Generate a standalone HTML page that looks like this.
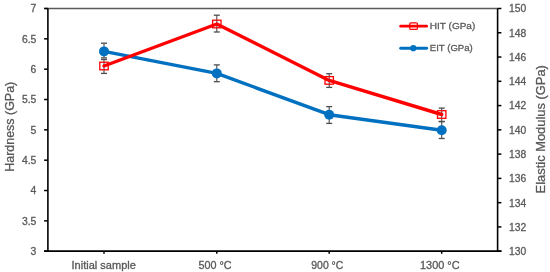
<!DOCTYPE html><html><head><meta charset="utf-8"><style>html,body{margin:0;padding:0;background:#fff;width:550px;height:272px;overflow:hidden}svg{display:block}.b{stroke:#595959;stroke-width:0.3px}</style></head><body>
<svg width="550" height="272" viewBox="0 0 550 272" font-family="'Liberation Sans', Arial, sans-serif">
<rect width="550" height="272" fill="#fff"/>
<line x1="44.4" y1="8.5" x2="497.6" y2="8.5" stroke="#5a5a5a" stroke-width="1.3"/>
<line x1="47.9" y1="8.5" x2="47.9" y2="251.2" stroke="#000" stroke-width="1.6"/>
<line x1="44.1" y1="8.50" x2="47.9" y2="8.50" stroke="#000" stroke-width="1.5"/>
<line x1="44.1" y1="38.84" x2="47.9" y2="38.84" stroke="#000" stroke-width="1.5"/>
<line x1="44.1" y1="69.17" x2="47.9" y2="69.17" stroke="#000" stroke-width="1.5"/>
<line x1="44.1" y1="99.51" x2="47.9" y2="99.51" stroke="#000" stroke-width="1.5"/>
<line x1="44.1" y1="129.85" x2="47.9" y2="129.85" stroke="#000" stroke-width="1.5"/>
<line x1="44.1" y1="160.19" x2="47.9" y2="160.19" stroke="#000" stroke-width="1.5"/>
<line x1="44.1" y1="190.52" x2="47.9" y2="190.52" stroke="#000" stroke-width="1.5"/>
<line x1="44.1" y1="220.86" x2="47.9" y2="220.86" stroke="#000" stroke-width="1.5"/>
<line x1="44.1" y1="251.20" x2="47.9" y2="251.20" stroke="#000" stroke-width="1.5"/>
<line x1="497.6" y1="8.5" x2="497.6" y2="251.2" stroke="#000" stroke-width="1.6"/>
<line x1="497.6" y1="8.50" x2="501.40000000000003" y2="8.50" stroke="#000" stroke-width="1.5"/>
<line x1="497.6" y1="32.77" x2="501.40000000000003" y2="32.77" stroke="#000" stroke-width="1.5"/>
<line x1="497.6" y1="57.04" x2="501.40000000000003" y2="57.04" stroke="#000" stroke-width="1.5"/>
<line x1="497.6" y1="81.31" x2="501.40000000000003" y2="81.31" stroke="#000" stroke-width="1.5"/>
<line x1="497.6" y1="105.58" x2="501.40000000000003" y2="105.58" stroke="#000" stroke-width="1.5"/>
<line x1="497.6" y1="129.85" x2="501.40000000000003" y2="129.85" stroke="#000" stroke-width="1.5"/>
<line x1="497.6" y1="154.12" x2="501.40000000000003" y2="154.12" stroke="#000" stroke-width="1.5"/>
<line x1="497.6" y1="178.39" x2="501.40000000000003" y2="178.39" stroke="#000" stroke-width="1.5"/>
<line x1="497.6" y1="202.66" x2="501.40000000000003" y2="202.66" stroke="#000" stroke-width="1.5"/>
<line x1="497.6" y1="226.93" x2="501.40000000000003" y2="226.93" stroke="#000" stroke-width="1.5"/>
<line x1="497.6" y1="251.20" x2="501.40000000000003" y2="251.20" stroke="#000" stroke-width="1.5"/>
<line x1="44.1" y1="251.2" x2="501.40000000000003" y2="251.2" stroke="#000" stroke-width="1.8"/>
<line x1="104.00" y1="251.2" x2="104.00" y2="253.79999999999998" stroke="#000" stroke-width="1.5"/>
<line x1="216.80" y1="251.2" x2="216.80" y2="253.79999999999998" stroke="#000" stroke-width="1.5"/>
<line x1="329.20" y1="251.2" x2="329.20" y2="253.79999999999998" stroke="#000" stroke-width="1.5"/>
<line x1="441.70" y1="251.2" x2="441.70" y2="253.79999999999998" stroke="#000" stroke-width="1.5"/>
<text x="36.4" y="12.40" font-size="10.4" fill="#595959" text-anchor="end" class="b">7</text>
<text x="36.4" y="42.74" font-size="10.4" fill="#595959" text-anchor="end" class="b">6.5</text>
<text x="36.4" y="73.08" font-size="10.4" fill="#595959" text-anchor="end" class="b">6</text>
<text x="36.4" y="103.41" font-size="10.4" fill="#595959" text-anchor="end" class="b">5.5</text>
<text x="36.4" y="133.75" font-size="10.4" fill="#595959" text-anchor="end" class="b">5</text>
<text x="36.4" y="164.09" font-size="10.4" fill="#595959" text-anchor="end" class="b">4.5</text>
<text x="36.4" y="194.42" font-size="10.4" fill="#595959" text-anchor="end" class="b">4</text>
<text x="36.4" y="224.76" font-size="10.4" fill="#595959" text-anchor="end" class="b">3.5</text>
<text x="36.4" y="255.10" font-size="10.4" fill="#595959" text-anchor="end" class="b">3</text>
<text x="509.0" y="12.40" font-size="10.4" fill="#595959" class="b" textLength="17.2" lengthAdjust="spacingAndGlyphs">150</text>
<text x="509.0" y="36.67" font-size="10.4" fill="#595959" class="b" textLength="17.2" lengthAdjust="spacingAndGlyphs">148</text>
<text x="509.0" y="60.94" font-size="10.4" fill="#595959" class="b" textLength="17.2" lengthAdjust="spacingAndGlyphs">146</text>
<text x="509.0" y="85.21" font-size="10.4" fill="#595959" class="b" textLength="17.2" lengthAdjust="spacingAndGlyphs">144</text>
<text x="509.0" y="109.48" font-size="10.4" fill="#595959" class="b" textLength="17.2" lengthAdjust="spacingAndGlyphs">142</text>
<text x="509.0" y="133.75" font-size="10.4" fill="#595959" class="b" textLength="17.2" lengthAdjust="spacingAndGlyphs">140</text>
<text x="509.0" y="158.02" font-size="10.4" fill="#595959" class="b" textLength="17.2" lengthAdjust="spacingAndGlyphs">138</text>
<text x="509.0" y="182.29" font-size="10.4" fill="#595959" class="b" textLength="17.2" lengthAdjust="spacingAndGlyphs">136</text>
<text x="509.0" y="206.56" font-size="10.4" fill="#595959" class="b" textLength="17.2" lengthAdjust="spacingAndGlyphs">134</text>
<text x="509.0" y="230.83" font-size="10.4" fill="#595959" class="b" textLength="17.2" lengthAdjust="spacingAndGlyphs">132</text>
<text x="509.0" y="255.10" font-size="10.4" fill="#595959" class="b" textLength="17.2" lengthAdjust="spacingAndGlyphs">130</text>
<text x="103.70" y="269.2" font-size="10" fill="#595959" text-anchor="middle" class="b" textLength="64.3" lengthAdjust="spacingAndGlyphs">Initial sample</text>
<text x="215.10" y="269.2" font-size="10" fill="#595959" text-anchor="middle" class="b" textLength="33" lengthAdjust="spacingAndGlyphs">500 °C</text>
<text x="327.30" y="269.2" font-size="10" fill="#595959" text-anchor="middle" class="b" textLength="32" lengthAdjust="spacingAndGlyphs">900 °C</text>
<text x="439.80" y="269.2" font-size="10" fill="#595959" text-anchor="middle" class="b" textLength="39.5" lengthAdjust="spacingAndGlyphs">1300 °C</text>
<text transform="translate(13.8,126.75) rotate(-90)" font-size="13.2" fill="#595959" class="b" text-anchor="middle" textLength="90" lengthAdjust="spacingAndGlyphs">Hardness (GPa)</text>
<text transform="translate(545.2,129.25) rotate(-90)" font-size="13.2" fill="#595959" class="b" text-anchor="middle" textLength="128.3" lengthAdjust="spacingAndGlyphs">Elastic Modulus (GPa)</text>
<line x1="104.00" y1="43.2" x2="104.00" y2="57.9" stroke="#4d4d4d" stroke-width="1.1"/>
<line x1="101.00" y1="43.2" x2="107.00" y2="43.2" stroke="#4d4d4d" stroke-width="1.3"/>
<line x1="101.00" y1="57.9" x2="107.00" y2="57.9" stroke="#4d4d4d" stroke-width="1.3"/>
<line x1="216.80" y1="64.9" x2="216.80" y2="81.7" stroke="#4d4d4d" stroke-width="1.1"/>
<line x1="213.80" y1="64.9" x2="219.80" y2="64.9" stroke="#4d4d4d" stroke-width="1.3"/>
<line x1="213.80" y1="81.7" x2="219.80" y2="81.7" stroke="#4d4d4d" stroke-width="1.3"/>
<line x1="329.20" y1="106.6" x2="329.20" y2="123.4" stroke="#4d4d4d" stroke-width="1.1"/>
<line x1="326.20" y1="106.6" x2="332.20" y2="106.6" stroke="#4d4d4d" stroke-width="1.3"/>
<line x1="326.20" y1="123.4" x2="332.20" y2="123.4" stroke="#4d4d4d" stroke-width="1.3"/>
<line x1="441.70" y1="121.7" x2="441.70" y2="138.5" stroke="#4d4d4d" stroke-width="1.1"/>
<line x1="438.70" y1="121.7" x2="444.70" y2="121.7" stroke="#4d4d4d" stroke-width="1.3"/>
<line x1="438.70" y1="138.5" x2="444.70" y2="138.5" stroke="#4d4d4d" stroke-width="1.3"/>
<line x1="104.00" y1="59.5" x2="104.00" y2="73.4" stroke="#4d4d4d" stroke-width="1.1"/>
<line x1="101.00" y1="59.5" x2="107.00" y2="59.5" stroke="#4d4d4d" stroke-width="1.3"/>
<line x1="101.00" y1="73.4" x2="107.00" y2="73.4" stroke="#4d4d4d" stroke-width="1.3"/>
<line x1="216.80" y1="15.2" x2="216.80" y2="32.0" stroke="#4d4d4d" stroke-width="1.1"/>
<line x1="213.80" y1="15.2" x2="219.80" y2="15.2" stroke="#4d4d4d" stroke-width="1.3"/>
<line x1="213.80" y1="32.0" x2="219.80" y2="32.0" stroke="#4d4d4d" stroke-width="1.3"/>
<line x1="329.20" y1="73.7" x2="329.20" y2="87.4" stroke="#4d4d4d" stroke-width="1.1"/>
<line x1="326.20" y1="73.7" x2="332.20" y2="73.7" stroke="#4d4d4d" stroke-width="1.3"/>
<line x1="326.20" y1="87.4" x2="332.20" y2="87.4" stroke="#4d4d4d" stroke-width="1.3"/>
<line x1="441.70" y1="108.1" x2="441.70" y2="121.4" stroke="#4d4d4d" stroke-width="1.1"/>
<line x1="438.70" y1="108.1" x2="444.70" y2="108.1" stroke="#4d4d4d" stroke-width="1.3"/>
<line x1="438.70" y1="121.4" x2="444.70" y2="121.4" stroke="#4d4d4d" stroke-width="1.3"/>
<polyline points="104.00,51.4 216.80,73.4 329.20,114.7 441.70,130.2" fill="none" stroke="#0070c0" stroke-width="3.4" stroke-linejoin="round" stroke-linecap="round"/>
<polyline points="104.00,66.0 216.80,24.0 329.20,80.4 441.70,114.5" fill="none" stroke="#ff0000" stroke-width="3.4" stroke-linejoin="round" stroke-linecap="round"/>
<circle cx="104.00" cy="51.4" r="5.0" fill="#0070c0"/>
<circle cx="216.80" cy="73.4" r="5.0" fill="#0070c0"/>
<circle cx="329.20" cy="114.7" r="5.0" fill="#0070c0"/>
<circle cx="441.70" cy="130.2" r="5.0" fill="#0070c0"/>
<rect x="99.80" y="62.20" width="8.4" height="7.6" fill="none" stroke="#ff0000" stroke-width="1.3"/>
<rect x="212.60" y="20.20" width="8.4" height="7.6" fill="none" stroke="#ff0000" stroke-width="1.3"/>
<rect x="325.00" y="76.60" width="8.4" height="7.6" fill="none" stroke="#ff0000" stroke-width="1.3"/>
<rect x="437.50" y="110.70" width="8.4" height="7.6" fill="none" stroke="#ff0000" stroke-width="1.3"/>
<line x1="400.7" y1="26.2" x2="426.6" y2="26.2" stroke="#ff0000" stroke-width="2.8" stroke-linecap="round"/>
<rect x="409.8" y="22.8" width="7.6" height="6.6" rx="1" fill="none" stroke="#ff0000" stroke-width="1.2"/>
<text x="429.8" y="29.4" font-size="9.8" fill="#595959" class="b" textLength="45.5" lengthAdjust="spacingAndGlyphs">HIT (GPa)</text>
<line x1="400.7" y1="48.3" x2="426.6" y2="48.3" stroke="#0070c0" stroke-width="2.9" stroke-linecap="round"/>
<circle cx="413.3" cy="48.2" r="3.1" fill="#0070c0"/>
<text x="429.8" y="51.4" font-size="9.8" fill="#595959" class="b" textLength="43" lengthAdjust="spacingAndGlyphs">EIT (GPa)</text>
</svg></body></html>
